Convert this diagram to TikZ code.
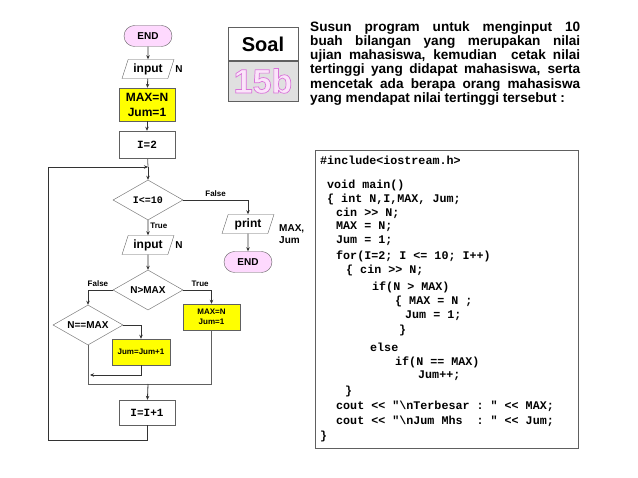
\documentclass[tikz,border=0pt]{standalone}
\usepackage{fontspec}
\setmainfont{Liberation Sans}
\setmonofont{Liberation Mono}
\usetikzlibrary{shapes.geometric,shapes.misc,arrows.meta}
\definecolor{pinkf}{HTML}{FBE4FA}
\definecolor{yel}{HTML}{FFFF00}
\definecolor{gr}{HTML}{606060}
\begin{document}
\begin{tikzpicture}[x=1pt,y=-1pt,
 line/.style={draw=gr,line width=0.8pt},
 arr/.style={line,-{Stealth[length=4pt,width=3.5pt]},draw=black!80},
 term/.style={rounded rectangle,draw=gr,fill=pinkf!70!magenta!40,minimum width=50,minimum height=21,font=\bfseries\fontsize{10}{12}\selectfont,inner sep=1pt},
 io/.style={trapezium,trapezium left angle=65,trapezium right angle=115,draw=gr,minimum width=52,minimum height=19,inner sep=1pt,font=\bfseries\fontsize{12}{14}\selectfont,trapezium stretches body},
 proc/.style={draw=gr,minimum width=56,inner sep=1pt},
 dec/.style={diamond,aspect=1.75,draw=gr,minimum width=70,minimum height=40,inner sep=0pt,font=\bfseries\fontsize{10}{12}\selectfont},
 lab/.style={font=\bfseries\fontsize{8}{10}\selectfont,inner sep=1pt},
 code/.style={anchor=west,font=\ttfamily\bfseries\fontsize{11.7}{13}\selectfont,inner sep=0pt}]
\useasboundingbox (0,0) rectangle (638,478);
% flowchart
\node[term] (s) at (148,36) {END};
\node[io] (in1) at (148,69) {input};
\node[lab,font=\bfseries\fontsize{10}{12}\selectfont] at (179,69) {N};
\node[proc,fill=yel,minimum height=33,align=center,font=\bfseries\fontsize{12}{15}\selectfont] (mx) at (147,104.5) {MAX=N\\Jum=1};
\node[proc,minimum height=27,font=\ttfamily\bfseries\fontsize{11}{13}\selectfont] (i2) at (147,144.5) {I=2};
\node[dec,font=\ttfamily\bfseries\fontsize{10}{12}\selectfont] (d1) at (148,200) {I<=10};
\node[io] (pr) at (248,224) {print};
\node[lab,font=\bfseries\fontsize{10}{12}\selectfont,align=left,anchor=west] at (278,234) {MAX,\\Jum};
\node[term] (e2) at (248,262) {END};
\node[io] (in2) at (148,245) {input};
\node[lab,font=\bfseries\fontsize{10}{12}\selectfont] at (179,245) {N};
\node[dec] (d2) at (148,290) {N>MAX};
\node[dec] (d3) at (88,325) {N==MAX};
\node[proc,fill=yel,minimum width=57,minimum height=26,align=center,font=\bfseries\fontsize{8}{10}\selectfont] (mx2) at (211.5,317) {MAX=N\\Jum=1};
\node[proc,fill=yel,minimum width=58,minimum height=26,font=\bfseries\fontsize{8}{10}\selectfont] (jm) at (141,352) {Jum=Jum+1};
\node[proc,minimum height=25,font=\ttfamily\bfseries\fontsize{11}{13}\selectfont] (ii) at (147,412.5) {I=I+1};
\coordinate (j1) at (148,167);
\coordinate (j2) at (148,384);
\coordinate (j3) at (90,375);
\draw[arr] (s) -- (in1);
\draw[arr] (in1) -- (mx);
\draw[arr] (mx) -- (i2);
\draw[line] (i2) -- (j1);
\draw[arr] (j1) -- (d1.north);
\draw[arr] (d1.east) -| node[lab,pos=0.25,above=2pt]{False} (pr.north);
\draw[arr] (pr) -- (e2);
\draw[arr] (d1.south) -- node[lab,right=1pt,pos=0.4]{True} (in2);
\draw[arr] (in2) -- (d2.north);
\draw[arr] (d2.west) -| node[lab,pos=0.3,above=2pt]{False} (d3.north);
\draw[arr] (d2.east) -| node[lab,pos=0.3,above=2pt]{True} (mx2.north);
\draw[arr] (d3.east) -| (jm.north);
\draw[arr] (jm.south) |- (j3);
\draw[line] (d3.south) |- (mx2.south |- j2) -- (mx2.south);
\draw[arr] (j2) -- (ii);
\draw[arr] (ii.south) -- ++(0,15) -| (48,167) -- (j1);
% Soal box
\node[draw=gr,fill=white,minimum width=70,minimum height=33,font=\bfseries\fontsize{20}{22}\selectfont] (so) at (263,44) {Soal};
\node[draw=gr,fill=black!12,minimum width=70,minimum height=40,font=\bfseries\fontsize{34}{34}\selectfont,text=pinkf,anchor=north,inner sep=0pt] (nb) at (so.south) {\special{pdf:literal 2 Tr 0.7 w 0.85 0.45 0.85 RG}15b\special{pdf:literal 0 Tr}};
% problem text
\node[anchor=north west,text width=270,align=justify,font=\bfseries\fontsize{13.6}{14.3}\selectfont,inner sep=0pt] (tx) at (310,21) {\hyphenpenalty=10000 Susun program untuk menginput 10\linebreak buah bilangan yang merupakan nilai\linebreak ujian mahasiswa, kemudian \ cetak nilai\linebreak tertinggi yang didapat mahasiswa, serta\linebreak mencetak ada berapa orang mahasiswa\linebreak yang mendapat nilai tertinggi tersebut :};
% code
\node[draw=gr,minimum width=263,minimum height=298,anchor=north west] (cb) at (315,150) {};
\node[code] (c1) at (320,160) {\#include<iostream.h>};
\node[code] (c2) at (327,185) {void main()};
\node[code] (c3) at (327,199) {\{ int N,I,MAX, Jum;};
\node[code] (c4) at (336,213) {cin >> N;};
\node[code] (c5) at (336,227) {MAX = N;};
\node[code] (c6) at (336,241) {Jum = 1;};
\node[code] (c7) at (336,256) {for(I=2; I <= 10; I++)};
\node[code] (c8) at (346,270) {\{ cin >> N;};
\node[code] (c9) at (372,287) {if(N > MAX)};
\node[code] (c10) at (395,301) {\{ MAX = N ;};
\node[code] (c11) at (405,316) {Jum = 1;};
\node[code] (c12) at (399,330) {\}};
\node[code] (c13) at (370,347) {else};
\node[code] (c14) at (395,362) {if(N == MAX)};
\node[code] (c15) at (418,376) {Jum++;};
\node[code] (c16) at (345,391) {\}};
\node[code] (c17) at (336,406) {cout << "\textbackslash nTerbesar : " << MAX;};
\node[code] (c18) at (336,421) {cout << "\textbackslash nJum Mhs \ : " << Jum;};
\node[code] (c19) at (320,436) {\}};
\end{tikzpicture}
\end{document}
